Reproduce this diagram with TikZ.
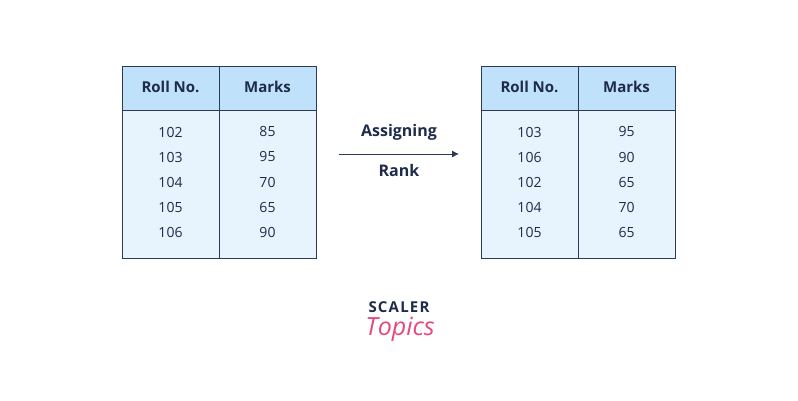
\documentclass[tikz,border=0pt]{standalone}
\usepackage{fontspec}
\setmainfont{Open Sans}
\usetikzlibrary{arrows.meta}
\definecolor{hdr}{HTML}{BFE1FA}
\definecolor{bdy}{HTML}{E8F4FD}
\definecolor{ln}{HTML}{2B3A55}
\definecolor{txt}{HTML}{1E2B4A}
\definecolor{pink}{HTML}{E5497F}
\tikzset{cell/.style={text=txt,font=\fontsize{14}{16}\selectfont},
  head/.style={text=txt,font=\fontsize{15}{17}\selectfont\bfseries}}
\begin{document}
\begin{tikzpicture}[x=1pt,y=-1pt]
\useasboundingbox[fill=white] (0,0) rectangle (798,401);
\foreach \x/\n/\rolls/\marks in {122/L/{102,103,104,105,106}/{85,95,70,65,90},481/R/{103,106,102,104,105}/{95,90,65,70,65}}{
  \fill[hdr] (\x,66) rectangle ++(194,44);
  \fill[bdy] (\x,110) rectangle ++(194,148);
  \draw[ln,line width=0.8pt] (\x,66) rectangle ++(194,192);
  \draw[ln,line width=0.8pt] (\x,110) -- ++(194,0);
  \draw[ln,line width=0.8pt] (\x+97,66) -- ++(0,192);
  \node[head] (h1\n) at (\x+48.5,87) {Roll No.};
  \node[head] (h2\n) at (\x+145.5,87) {Marks};
  \foreach \r [count=\i] in \rolls { \node[cell] (r\n\i) at (\x+48.5,107+25*\i) {\r}; }
  \foreach \m [count=\i] in \marks { \node[cell] (m\n\i) at (\x+145.5,107+25*\i) {\m}; }
}
\coordinate (a1) at (339,154);
\coordinate (a2) at (459,154);
\draw[ln,line width=0.9pt,-{Latex[length=7pt,width=7pt]}] (a1) -- (a2);
\node[head,font=\fontsize{16}{18}\selectfont\bfseries] (t1) at (399,132) {Assigning};
\node[head,font=\fontsize{16}{18}\selectfont\bfseries] (t2) at (399,171) {Rank};
\node[text=txt,font=\fontsize{15}{17}\selectfont\bfseries\addfontfeature{LetterSpace=8}] (s) at (399,307) {SCALER};
\node[text=pink,font=\fontsize{25}{27}\selectfont\itshape] (tp) at (400,329) {Topics};
\end{tikzpicture}
\end{document}
